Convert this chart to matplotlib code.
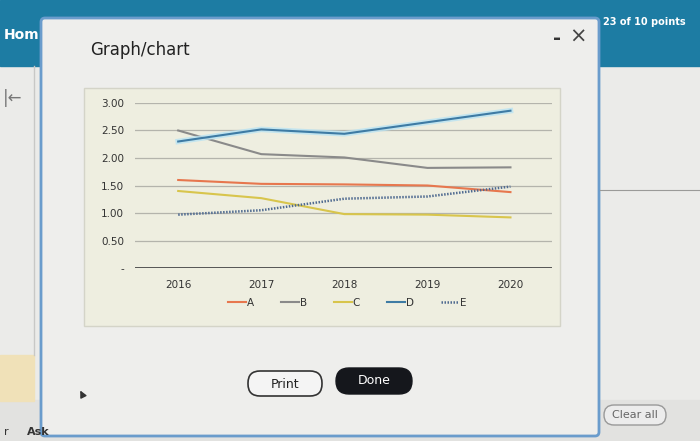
import numpy as np
import matplotlib
from matplotlib import pyplot as plt
from matplotlib.patches import Rectangle, FancyBboxPatch
plt.switch_backend('agg')

years = ['2016', '2017', '2018', '2019', '2020']
series_a = [1.60, 1.53, 1.52, 1.50, 1.38]
series_b = [2.50, 2.07, 2.01, 1.82, 1.83]
series_c = [1.40, 1.27, 0.98, 0.97, 0.92]
series_d = [2.30, 2.52, 2.44, 2.65, 2.86]
series_e = [0.97, 1.05, 1.26, 1.30, 1.48]
y_ticks = [0, 0.5, 1.0, 1.5, 2.0, 2.5, 3.0]
y_labels = ['-', '0.50', '1.00', '1.50', '2.00', '2.50', '3.00']

W, H = 700, 441
fig = plt.figure(figsize=(7, 4.41), dpi=100)

# screen background drawn in pixel coordinates
bg = fig.add_axes([0, 0, 1, 1])
bg.set_xlim(0, W)
bg.set_ylim(H, 0)
bg.axis('off')
bg.add_patch(Rectangle((0, 0), W, H, color='#ebebe9'))
bg.add_patch(Rectangle((0, 400), W, 41, color='#e2e2e0'))
bg.add_patch(Rectangle((0, 0), W, 66, color='#1d7ca3'))
bg.add_patch(Rectangle((0, 355), 34, 46, color='#f0e1b8'))
bg.plot([34, 34], [66, 355], color='#c8c8c6', lw=1)
bg.plot([600, W], [190, 190], color='#9a9a98', lw=0.8)
bg.text(4, 35, 'Hom', color='white', fontsize=10, fontweight='bold', va='center')
bg.text(603, 22, '23 of 10 points', color='white', fontsize=7, fontweight='bold', va='center')
bg.text(3, 98, '|\u2190', color='#777777', fontsize=12, va='center')
bg.text(4, 432, 'r', color='#333333', fontsize=8, va='center')
bg.text(27, 432, 'Ask', color='#333333', fontsize=8, fontweight='bold', va='center')
bg.add_patch(FancyBboxPatch((604, 405), 62, 20, boxstyle='round,pad=0,rounding_size=10',
                            fc='#ececec', ec='#999999', lw=1))
bg.text(635, 415, 'Clear all', color='#666666', fontsize=8, ha='center', va='center')

# dialog window
bg.add_patch(FancyBboxPatch((41, 18), 558, 418, boxstyle='round,pad=0,rounding_size=4',
                            fc='#eeeeec', ec='#6a9ccc', lw=2))
bg.text(90, 50, 'Graph/chart', color='#222222', fontsize=12, va='center')
bg.text(557, 38, '-', color='#333333', fontsize=14, fontweight='bold', va='center', ha='center')
bg.text(578, 37, '\u00d7', color='#444444', fontsize=15, va='center', ha='center')

# chart panel
bg.add_patch(Rectangle((84, 88), 476, 238, fc='#eeeee0', ec='#d4d4c8', lw=1))

# buttons
bg.add_patch(FancyBboxPatch((248, 371), 74, 25, boxstyle='round,pad=0,rounding_size=12',
                            fc='#f4f4f4', ec='#333333', lw=1.2))
bg.text(285, 384, 'Print', color='#222222', fontsize=9, ha='center', va='center')
bg.add_patch(FancyBboxPatch((336, 368), 76, 26, boxstyle='round,pad=0,rounding_size=13',
                            fc='#15171c', ec='#15171c', lw=1))
bg.text(374, 381, 'Done', color='white', fontsize=9, ha='center', va='center')
bg.annotate('', xy=(79, 388), xytext=(84, 398),
            arrowprops=dict(arrowstyle='-|>', color='#333333', lw=1))

# the chart itself
ax = fig.add_axes([135 / W, 1 - 268 / H, 417 / W, 165 / H])
ax.patch.set_alpha(0)
x = np.arange(len(years))
ax.set_xlim(-0.52, len(years) - 0.5)
ax.set_ylim(0, 3.0)
for v in y_ticks:
    ax.axhline(v, color='#555555' if v == 0 else '#b4b4ac', lw=1.4 if v == 0 else 0.9, zorder=1)
ax.set_yticks(y_ticks)
ax.set_yticklabels(y_labels)
ax.set_xticks(x)
ax.set_xticklabels(years)
ax.tick_params(length=0, labelsize=7.5, colors='#333333')
ax.tick_params(axis='x', pad=9)
ax.tick_params(axis='y', pad=8)
for s in ax.spines.values():
    s.set_visible(False)

ax.plot(x, series_a, color='#e7774e', lw=1.5, label='A', clip_on=False)
ax.plot(x, series_b, color='#8a8a8a', lw=1.5, label='B', clip_on=False)
ax.plot(x, series_c, color='#d8c54c', lw=1.5, label='C', clip_on=False)
ax.plot(x, series_d, color='#b9e3f3', lw=4, alpha=0.8, clip_on=False)
ax.plot(x, series_d, color='#3e7ba4', lw=1.5, label='D', clip_on=False)
ax.plot(x, series_e, color='#4f6a90', lw=1.8, ls=(0, (0.6, 0.6)), label='E', clip_on=False)

handles, labels = ax.get_legend_handles_labels()
leg = fig.legend(handles, labels, loc='center', bbox_to_anchor=(347 / W, 1 - 303 / H),
                 ncol=5, frameon=False, fontsize=7.5, handlelength=1.7, handletextpad=0.1,
                 columnspacing=2.6)
for t in leg.get_texts():
    t.set_color('#333333')

fig.savefig('out.png', dpi=100)
